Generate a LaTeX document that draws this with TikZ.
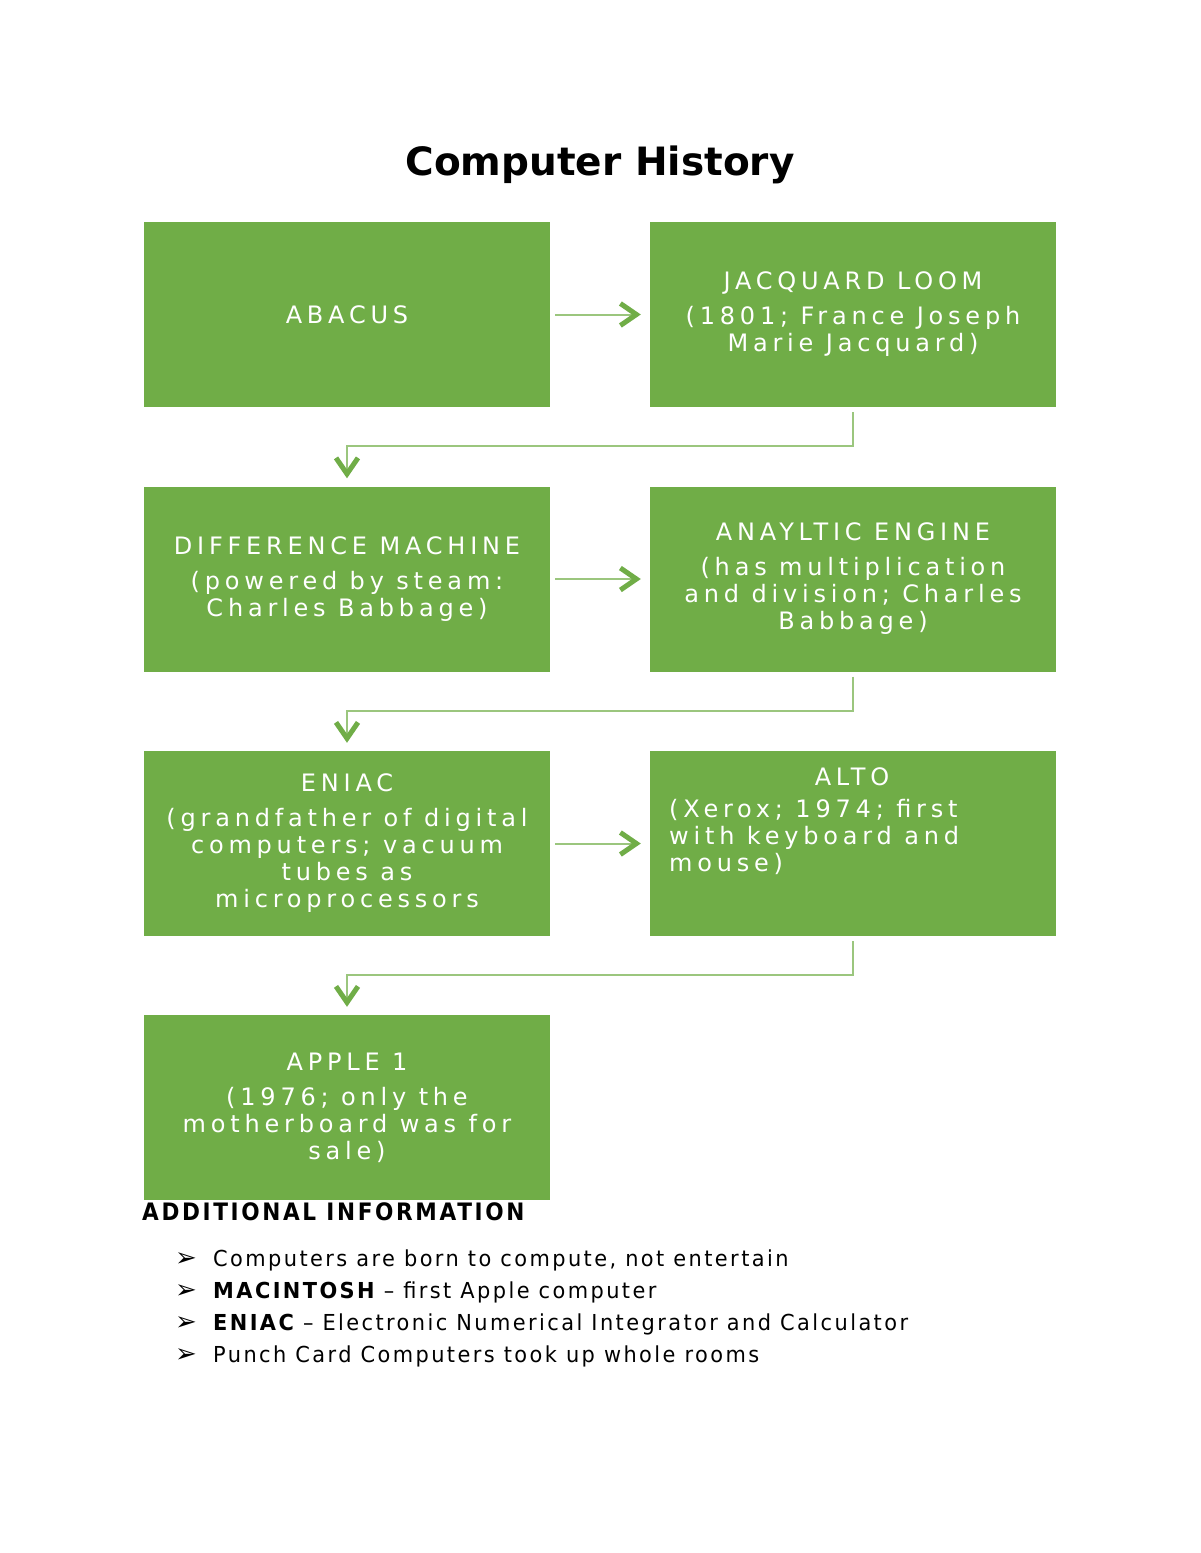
\documentclass[tikz,border=0pt]{standalone}
\usepackage{fontspec}
\setmainfont{DejaVu Sans}
\newfontfamily\boxfont{DejaVu Sans}[LetterSpace=20]
\newfontfamily\listfont{DejaVu Sans}[FakeStretch=0.95,LetterSpace=11]
\newfontfamily\headfont{DejaVu Sans}[FakeStretch=0.9,LetterSpace=11]
\usetikzlibrary{arrows.meta}
\definecolor{grn}{HTML}{70AD47}
\definecolor{lgrn}{RGB}{155,198,126}
\begin{document}
\begin{tikzpicture}[x=1pt,y=-1pt,
  box/.style={fill=grn, draw=none, minimum width=406pt, minimum height=185pt, inner sep=0pt,
    text=white, font=\boxfont\fontsize{24}{27}\selectfont, align=center},
  conn/.style={draw=lgrn, line width=2pt,
    -{Straight Barb[length=16pt,width=22pt,line width=5pt,color=grn]}},
  listtxt/.style={anchor=base west, font=\listfont\fontsize{22}{24}\selectfont},
  bullet/.style={anchor=base, font=\fontsize{26}{26}\selectfont}
]
\useasboundingbox (0,0) rectangle (1200,1553);
\fill[white] (0,0) rectangle (1200,1553);

\node[font=\bfseries\fontsize{39}{44}\selectfont] (title) at (600,165) {Computer History};

\node[box] (abacus) at (347,314.5) {ABACUS};
\node[box] (loom) at (853,314.5) {JACQUARD LOOM\\[8pt](1801; France Joseph\\Marie Jacquard)};
\node[box] (diff) at (347,579) {DIFFERENCE MACHINE\\[8pt](powered by steam:\\Charles Babbage)};
\node[box] (anal) at (853,579) {ANAYLTIC ENGINE\\[8pt](has multiplication\\and division; Charles\\Babbage)};
\node[box] (eniac) at (347,843.5) {ENIAC\\[8pt](grandfather of digital\\computers; vacuum\\tubes as\\microprocessors};
\node[box] (alto) at (853,843.5) {};
\node[text=white, font=\boxfont\fontsize{24}{27}\selectfont] (altohead) at (852,777) {ALTO};
\node[anchor=north west, inner sep=0pt, text=white, align=left, font=\boxfont\fontsize{24}{27}\selectfont] (altobody) at (669,799) {(Xerox; 1974; first\\with keyboard and\\mouse)};
\node[box] (apple) at (347,1107.5) {APPLE 1\\[8pt](1976; only the\\motherboard was for\\sale)};

\draw[conn, shorten <=5pt, shorten >=9pt] (abacus) -- (loom);
\draw[conn, shorten <=5pt, shorten >=9pt] (diff) -- (anal);
\draw[conn, shorten <=5pt, shorten >=9pt] (eniac) -- (alto);
\draw[conn, shorten <=5pt, shorten >=8pt] (loom.south) -- ++(0,39) -| (diff.north);
\draw[conn, shorten <=5pt, shorten >=8pt] (anal.south) -- ++(0,39) -| (eniac.north);
\draw[conn, shorten <=5pt, shorten >=8pt] (alto.south) -- ++(0,39) -| (apple.north);

\node[anchor=base west, inner sep=0pt, font=\headfont\bfseries\fontsize{24}{26}\selectfont] (addl) at (142,1220) {ADDITIONAL INFORMATION};

\node[bullet] (b1) at (186,1266) {➢};
\node[bullet] (b2) at (186,1298) {➢};
\node[bullet] (b3) at (186,1330) {➢};
\node[bullet] (b4) at (186,1362) {➢};
\node[listtxt, inner sep=0pt] (t1) at (213,1266) {Computers are born to compute, not entertain};
\node[listtxt, inner sep=0pt] (t2) at (213,1298) {{\bfseries MACINTOSH} – first Apple computer};
\node[listtxt, inner sep=0pt] (t3) at (213,1330) {{\bfseries ENIAC} – Electronic Numerical Integrator and Calculator};
\node[listtxt, inner sep=0pt] (t4) at (213,1362) {Punch Card Computers took up whole rooms};
\end{tikzpicture}
\end{document}
